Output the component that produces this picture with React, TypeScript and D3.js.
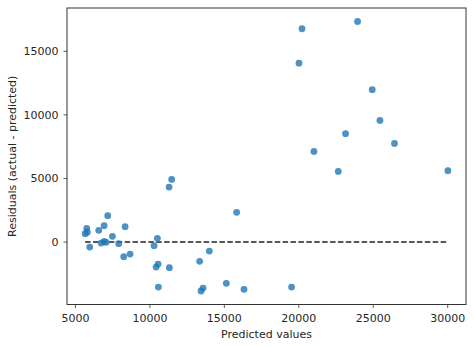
import React from "react";
import * as d3 from "d3";

const predicted = [
  20215, 23946, 20013, 24933, 25449, 23140, 26429, 21019, 22650, 30012,
  11463, 11288, 15825, 10503, 10281, 13993, 13342, 10550, 10416, 11308,
  10570, 15134, 13570, 13436, 16321, 19516,
  7168, 6926, 8335, 5758, 6564, 5651, 5800, 7483, 5960, 6724, 6926, 7060,
  7906, 8242, 8671,
];
const residuals = [
  16777, 17350, 14073, 11982, 9568, 8522, 7760, 7131, 5558, 5613,
  4930, 4324, 2335, 291, -283, -708, -1517, -1730, -1966, -2013,
  -3538, -3247, -3617, -3852, -3719, -3538,
  2076, 1289, 1211, 1077, 920, 660, 780, 448, -393, -79, 50, -24,
  -126, -1148, -943,
];
const xTicks = [5000, 10000, 15000, 20000, 25000, 30000];
const yTicks = [0, 5000, 10000, 15000];

const W = 474;
const H = 347;
const M = { left: 67, right: 466, top: 8, bottom: 304.5 };

export default function App() {
  const xMin = d3.min(predicted)!;
  const xMax = d3.max(predicted)!;
  const yMin = d3.min(residuals)!;
  const yMax = d3.max(residuals)!;
  const xPad = (xMax - xMin) * 0.05;
  const yPad = (yMax - yMin) * 0.05;
  const x = d3.scaleLinear().domain([xMin - xPad, xMax + xPad]).range([M.left, M.right]);
  const y = d3.scaleLinear().domain([yMin - yPad, yMax + yPad]).range([M.bottom, M.top]);
  const font = "DejaVu Sans, sans-serif";
  const tc = "#262626";
  const fs = 11;
  return (
    <svg width={W} height={H} style={{ position: "absolute", left: 0, top: 0, background: "#fff" }} fontFamily={font}>
      <line x1={x(xMin)} x2={x(xMax)} y1={y(0)} y2={y(0)} stroke="#222" strokeWidth={1.4} strokeDasharray="5.5,2.4" />
      {predicted.map((p, i) => (
        <circle key={i} cx={x(p)} cy={y(residuals[i])} r={3.4} fill="#1f77b4" fillOpacity={0.8} />
      ))}
      <rect x={M.left} y={M.top} width={M.right - M.left} height={M.bottom - M.top} fill="none" stroke="#333" strokeWidth={1} />
      {xTicks.map((t) => (
        <g key={t}>
          <line x1={x(t)} x2={x(t)} y1={M.bottom} y2={M.bottom + 3.5} stroke="#333" strokeWidth={0.8} />
          <text x={x(t)} y={322} textAnchor="middle" fontSize={fs} fill={tc}>{t}</text>
        </g>
      ))}
      {yTicks.map((t) => (
        <g key={t}>
          <line x1={M.left - 3.5} x2={M.left} y1={y(t)} y2={y(t)} stroke="#333" strokeWidth={0.8} />
          <text x={M.left - 8.5} y={y(t)} dy="0.35em" textAnchor="end" fontSize={fs} fill={tc}>{t}</text>
        </g>
      ))}
      <text x={(M.left + M.right) / 2} y={337.5} textAnchor="middle" fontSize={fs} fill={tc}>Predicted values</text>
      <text transform={`translate(16,${(M.top + M.bottom) / 2}) rotate(-90)`} textAnchor="middle" fontSize={fs} fill={tc}>Residuals (actual - predicted)</text>
    </svg>
  );
}
